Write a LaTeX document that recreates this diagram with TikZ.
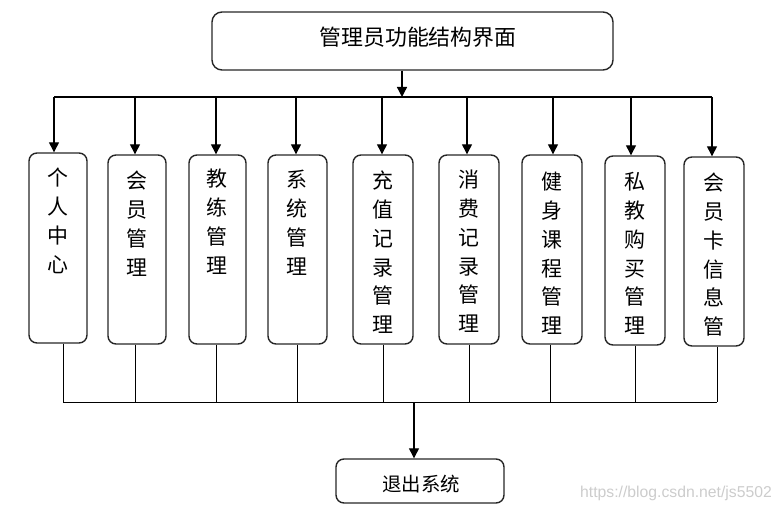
\documentclass[tikz,border=0pt]{standalone}
\usepackage{fontspec}
\newfontfamily\cjk{Noto Sans CJK SC}
\newfontfamily\wmfont{Liberation Sans}
\usetikzlibrary{arrows.meta,calc}
\begin{document}
\begin{tikzpicture}[x=1bp,y=-1bp,
  box/.style={draw=black!85,line width=1.4bp,rounded corners=8bp,inner sep=0},
  ch/.style={inner sep=0,font=\cjk\fontsize{21}{21}\selectfont,text height=0.88em,text depth=0.12em},
  conn/.style={line width=1.3bp,black},
  arr/.style={conn,-{Triangle[length=10bp,width=10bp]}},
  thinline/.style={line width=1bp,black}]
\useasboundingbox (0,0) rectangle (781,509);
% title
\node[box,rounded corners=10bp,minimum width=401bp,minimum height=58bp] (title) at (412.5,41) {};
\node[ch,font=\cjk\fontsize{22}{22}\selectfont] (titletext) at (418,42) {管理员功能结构界面};
% module boxes
\foreach \n/\cx/\cy/\w/\h/\fy/\txt in {
 1/58/248/58/190/178/{个,人,中,心},
 2/137/249.5/58/189/181/{会,员,管,理},
 3/217.5/249.5/57/189/179/{教,练,管,理},
 4/297.5/249.5/59/189/180/{系,统,管,理},
 5/383/249.5/60/189/181/{充,值,记,录,管,理},
 6/469/249.5/60/189/180/{消,费,记,录,管,理},
 7/552/249.5/60/189/182/{健,身,课,程,管,理},
 8/635/250.5/60/189/182/{私,教,购,买,管,理},
 9/714/251.5/60/189/183/{会,员,卡,信,息,管}}
{
  \node[box,minimum width=\w bp,minimum height=\h bp] (b\n) at (\cx,\cy) {};
  \foreach \c [count=\i] in \txt
    \node[ch] (t\n-\i) at (\cx-0.5,\fy+28.8*\i-28.8+4) {\c};
}
% exit box
\node[box,minimum width=168bp,minimum height=44bp] (exit) at (420,481) {};
\node[ch,font=\cjk\fontsize{19.5}{19.5}\selectfont] (exittext) at (421,487.5) {退出系统};
% top connectors
\coordinate (bt0) at (402,97);
\foreach \n/\x in {1/54,2/135,3/216,4/296,5/382,6/467,7/553,8/631,9/712}
  \coordinate (bt\n) at (\x,97);
\draw[arr] (title.south -| bt0) -- (bt0);
\draw[conn] (bt1) -- (bt9);
\foreach \n in {1,...,9}
  \draw[arr] (bt\n) -- (bt\n |- b\n.north);
% bottom connectors
\coordinate (bb0) at (414,402);
\foreach \n/\x in {1/63,2/135,3/216,4/297,5/383,6/469,7/550,8/635,9/717}
  \coordinate (bb\n) at (\x,402);
\foreach \n in {1,...,9}
  \draw[thinline] (bb\n |- b\n.south) -- (bb\n);
\draw[thinline] (bb1) -- (bb9);
\draw[arr] (bb0) -- (bb0 |- exit.north);
% watermark
\node[anchor=base west,inner sep=0,text=black!20,font=\wmfont\fontsize{15.8}{15.8}\selectfont] (wm) at (580,497) {https://blog.csdn.net/js5502};
\end{tikzpicture}
\end{document}
